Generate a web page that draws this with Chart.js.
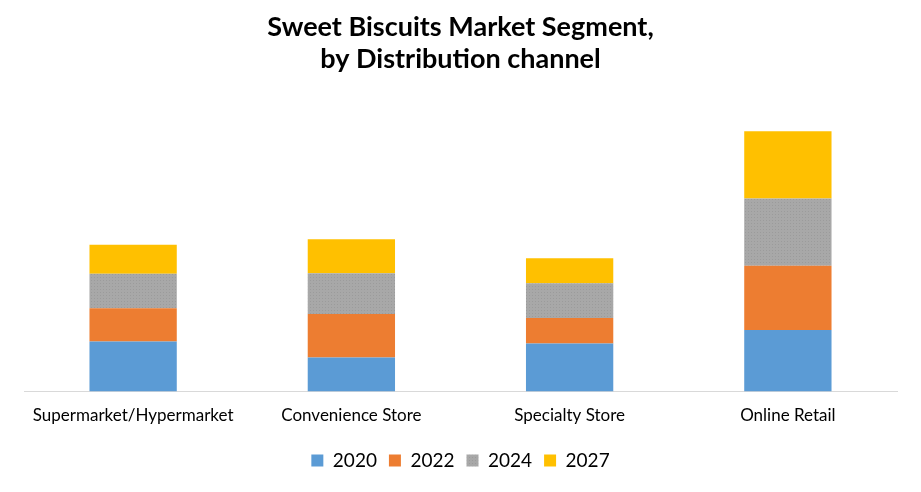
<!DOCTYPE html>
<html lang="en">
<head>
  <meta charset="UTF-8">
  <title>Sweet Biscuits Market Segment</title>
  <script src="https://cdn.jsdelivr.net/npm/chart.js"></script>
  <style>
    html, body { margin: 0; padding: 0; background: #fff; }
    #wrap { width: 921px; height: 492px; }
  </style>
</head>
<body>
  <div id="wrap"><canvas id="chart"></canvas></div>
  <script>
    // values (no axis shown, arbitrary units)
    const channels = ['Supermarket/Hypermarket', 'Convenience Store', 'Specialty Store', 'Online Retail'];
    const years = ['2020', '2022', '2024', '2027'];
    const v2020 = [5.0, 3.4, 4.8, 6.15];
    const v2022 = [3.3, 4.35, 2.55, 6.4];
    const v2024 = [3.45, 4.05, 3.45, 6.7];
    const v2027 = [2.9, 3.4, 2.5, 6.7];
    const yMax = 28;

    // dotted grey fill like the original
    function greyPattern() {
      const c = document.createElement('canvas');
      c.width = 3; c.height = 3;
      const g = c.getContext('2d');
      g.fillStyle = '#a8a8a8';
      g.fillRect(0, 0, 3, 3);
      g.fillStyle = '#9b9b9b';
      g.fillRect(1, 1, 1, 1);
      return g.createPattern(c, 'repeat');
    }

    const colors = ['#5b9bd5', '#ed7d31', greyPattern(), '#ffc000'];
    const series = [v2020, v2022, v2024, v2027];

    new Chart(document.getElementById('chart'), {
      type: 'bar',
      data: {
        labels: channels,
        datasets: years.map((y, i) => ({
          label: y,
          data: series[i],
          backgroundColor: colors[i],
          borderWidth: 0,
          categoryPercentage: 1.0,
          barPercentage: 0.4
        }))
      },
      options: {
        responsive: true,
        maintainAspectRatio: false,
        animation: false,
        layout: { padding: { left: 24, right: 24, top: 8, bottom: 12 } },
        plugins: {
          title: {
            display: true,
            text: ['Sweet Biscuits Market Segment,', 'by Distribution channel'],
            color: '#000',
            font: { family: 'Lato', size: 27, weight: 'bold', lineHeight: 1.2 },
            padding: { top: 3, bottom: 35 }
          },
          legend: {
            position: 'bottom',
            labels: {
              color: '#000',
              font: { family: 'Lato', size: 19 },
              boxWidth: 12,
              boxHeight: 12,
              padding: 12
            }
          },
          tooltip: { enabled: false }
        },
        scales: {
          x: {
            stacked: true,
            grid: { display: false },
            border: { display: true, color: '#d9d9d9', width: 1 },
            ticks: { color: '#000', font: { family: 'Lato', size: 17 }, padding: 6 },
            // extra gap between the category labels and the legend
            afterFit: (axis) => { axis.height += 7; }
          },
          y: {
            stacked: true,
            display: false,
            min: 0,
            max: yMax
          }
        }
      }
    });
  </script>
</body>
</html>
